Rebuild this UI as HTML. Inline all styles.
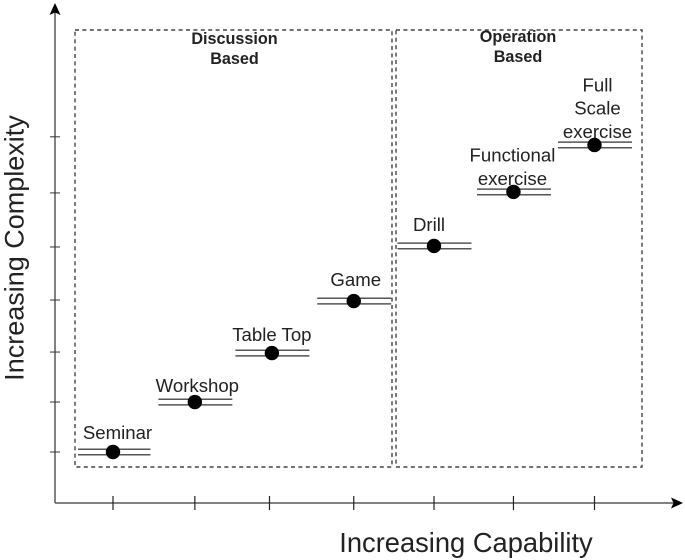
<!DOCTYPE html>
<html lang="en">
<head>
<meta charset="utf-8">
<title>Exercise types: complexity vs capability</title>
<style>
html,body{margin:0;padding:0;background:#fff;}
#chart{display:block;width:685px;height:560px;font-family:"Liberation Sans",sans-serif;}
</style>
</head>
<body>
<svg id="chart" xmlns="http://www.w3.org/2000/svg" width="685" height="560" viewBox="0 0 685 560">
  <g>
    <line x1="55" y1="503" x2="55" y2="10" stroke="#595959" stroke-width="1.5"/>
    <line x1="55" y1="503" x2="675" y2="503" stroke="#595959" stroke-width="1.5"/>
    <polygon points="55,3 49.5,15 55,12.5 60.5,15" fill="#000"/>
    <polygon points="683,503 671,497.5 673.5,503 671,508.5" fill="#000"/>
  </g>
  <g id="ticks"></g>
  <g fill="none" stroke="#444" stroke-width="1.4" stroke-dasharray="4 3.4">
    <rect x="75" y="30" width="317" height="437"/>
    <rect x="396" y="30" width="246" height="437"/>
  </g>
  <g font-size="16.2" font-weight="bold" fill="#222" text-anchor="middle">
    <text x="234.500" y="44">Discussion</text>
    <text x="234.500" y="64">Based</text>
    <text x="518" y="42">Operation</text>
    <text x="518" y="62">Based</text>
  </g>
  <g id="marks"></g>
  <text x="466" y="552" font-size="27.300" fill="#222" text-anchor="middle">Increasing Capability</text>
  <text transform="translate(23.500 248) rotate(-90)" font-size="27" fill="#222" text-anchor="middle">Increasing Complexity</text>
</svg>
<script>
const categories = ["Seminar", "Workshop", "Table Top", "Game", "Drill", "Functional exercise", "Full Scale exercise"];
const capabilityValues = [1, 2.02, 2.98, 4, 5, 5.99, 7];
const complexityValues = [1, 1.98, 2.94, 3.96, 5.04, 6.1, 7.02];
const xTickValues = [1, 2.02, 2.95, 4, 5, 5.99, 7];
const yTickValues = [1, 1.98, 2.96, 3.98, 5.02, 6.08, 7.18];

const NS = 'http://www.w3.org/2000/svg';
function xScale(v) { return 113 + (v - 1) * 80.25; }
function yScale(v) { return 452 - (v - 1) * 51; }

function make(tag, attrs, parent) {
  const el = document.createElementNS(NS, tag);
  for (const k in attrs) el.setAttribute(k, attrs[k]);
  parent.appendChild(el);
  return el;
}

const ticksGroup = document.getElementById('ticks');
xTickValues.forEach(function (v) {
  const t = make('line', { x1: xScale(v), x2: xScale(v), y1: 496, y2: 510, stroke: '#222', 'stroke-width': 1.2 }, ticksGroup);
  
  
});
yTickValues.forEach(function (v) {
  const t = make('line', { x1: 50, x2: 60, y1: yScale(v), y2: yScale(v), stroke: '#333', 'stroke-width': 1 }, ticksGroup);
  
  
});

const marksGroup = document.getElementById('marks');
const labelLineHeight = 23.3;
const labelBaselineOffset = [-13, -10, -12, -15, -15, -7, -7];
const labelShift = [4.5, 2.5, 0, 2, -5, -1, 3];
const barStartOffset = [-35, -36.5, -36.5, -36.5, -36.5, -36.5, -36.5];
categories.forEach(function (name, i) {
  const cx = xScale(capabilityValues[i]);
  const cy = yScale(complexityValues[i]);
  const g = make('g', {}, marksGroup);
  
  

  [-2.8, 2.8].forEach(function (d) {
    const l = make('line', { x1: cx + barStartOffset[i], x2: cx + 37.5, y1: cy + d, y2: cy + d, stroke: '#555', 'stroke-width': 1.5 }, g);
    
    
  });

  const words = name === 'Full Scale exercise' ? ['Full', 'Scale', 'exercise']
    : name === 'Functional exercise' ? ['Functional', 'exercise'] : [name];
  words.forEach(function (w, j) {
    const t = make('text', {
      x: cx + labelShift[i],
      y: cy + labelBaselineOffset[i] - (words.length - 1 - j) * labelLineHeight,
      'font-size': 18.6,
      fill: '#222',
      'text-anchor': 'middle'
    }, g);
    
    
    t.textContent = w;
  });

  const c = make('circle', { cx: cx, cy: cy, r: 7.2, fill: '#000' }, g);
  
  
});
</script>
</body>
</html>
